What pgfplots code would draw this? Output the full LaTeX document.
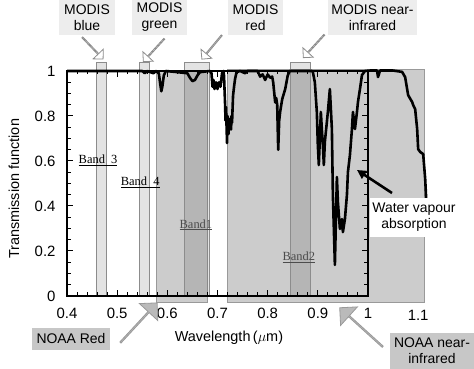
\documentclass[border=0pt]{standalone}
\usepackage{pgfplots}
\pgfplotsset{compat=1.18}
\usepackage{fontspec}
\setmainfont{Liberation Sans}
\newfontfamily\seriffont{Liberation Serif}
\usetikzlibrary{shapes.arrows,arrows.meta}
\begin{document}
\begin{tikzpicture}
\path[use as bounding box] (0,0) rectangle (474bp,369bp);
\begin{axis}[
  at={(67bp,73bp)}, anchor=south west,
  scale only axis, width=301bp, height=225bp,
  xmin=0.4, xmax=1.0, ymin=0, ymax=1,
  clip=false, axis on top,
  axis line style={line width=1.2bp},
  xtick={0.4,0.5,0.6,0.7,0.8,0.9,1.0},
  xticklabels={0.4,0.5,0.6,0.7,0.8,0.9,1},
  ytick={0,0.2,0.4,0.6,0.8,1},
  yticklabels={0,0.2,0.4,0.6,0.8,1},
  minor x tick num=4, minor y tick num=3,
  major tick length=6bp, minor tick length=3.5bp,
  every tick/.style={black, line width=1bp},
  /pgf/number format/assume math mode=true,
  tick label style={font=\fontsize{15}{18}\selectfont},
  xticklabel style={yshift=-9bp},
  yticklabel style={xshift=-8bp},
  xlabel={Wavelength\,($\mu$m)},
  ylabel={Transmission function},
  label style={font=\fontsize{14.5}{17}\selectfont},
  xlabel style={at={(axis description cs:0.538,-0.185)}, anchor=center},
  ylabel style={at={(axis description cs:-0.176,0.476)}, anchor=center},
]
% NOAA bands
\fill[black!20] (axis cs:0.579,-0.027) rectangle (axis cs:0.679,1.0);
\draw[black!40, line width=0.8bp] (axis cs:0.579,-0.027) rectangle (axis cs:0.679,1.0);
\fill[black!20] (axis cs:0.719,-0.027) rectangle (axis cs:1.113,1.005);
\draw[black!40, line width=0.8bp] (axis cs:0.719,-0.027) rectangle (axis cs:1.113,1.005);
% MODIS bands
\fill[black, opacity=0.11] (axis cs:0.458,0) rectangle (axis cs:0.478,1.036);
\draw[black!45, line width=0.8bp] (axis cs:0.458,0) rectangle (axis cs:0.478,1.036);
\fill[black, opacity=0.11] (axis cs:0.544,0) rectangle (axis cs:0.565,1.036);
\draw[black!45, line width=0.8bp] (axis cs:0.544,0) rectangle (axis cs:0.565,1.036);
\fill[black, opacity=0.11] (axis cs:0.634,0) rectangle (axis cs:0.684,1.036);
\draw[black!45, line width=0.8bp] (axis cs:0.634,0) rectangle (axis cs:0.684,1.036);
\fill[black, opacity=0.11] (axis cs:0.845,0) rectangle (axis cs:0.886,1.036);
\draw[black!45, line width=0.8bp] (axis cs:0.845,0) rectangle (axis cs:0.886,1.036);
% transmission curve
\addplot[black, line width=2.6bp, line join=round, mark=none] coordinates {
(0.400,1.000) (0.550,1.000) (0.555,0.990) (0.560,1.000) (0.572,0.990) (0.578,1.000)
(0.583,0.990) (0.586,0.940) (0.588,0.910) (0.590,0.930) (0.593,0.980) (0.597,1.000)
(0.620,0.995) (0.640,0.990) (0.645,0.970) (0.650,0.955) (0.655,0.960) (0.660,0.980)
(0.665,0.995) (0.685,1.000) (0.688,0.990) (0.690,0.930) (0.692,0.960) (0.694,0.920)
(0.697,0.950) (0.700,0.920) (0.703,0.950) (0.706,0.930) (0.709,0.990) (0.712,1.000)
(0.713,0.980) (0.715,0.860) (0.716,0.780) (0.717,0.840) (0.719,0.680) (0.720,0.800)
(0.722,0.720) (0.723,0.780) (0.724,0.740) (0.726,0.790) (0.727,0.740) (0.728,0.800)
(0.729,0.770) (0.731,0.890) (0.733,0.930)
(0.735,0.965) (0.738,0.995) (0.745,1.000) (0.755,0.990) (0.760,1.000) (0.780,1.000)
(0.785,0.975) (0.790,0.985) (0.795,0.960) (0.800,0.985) (0.805,0.970) (0.809,0.975)
(0.811,0.950) (0.815,0.860) (0.817,0.880) (0.819,0.850) (0.821,0.650) (0.823,0.780)
(0.825,0.820) (0.829,0.875) (0.835,0.920) (0.840,0.980) (0.844,1.000) (0.888,1.000)
(0.890,0.996) (0.894,0.951) (0.898,0.818) (0.900,0.671) (0.902,0.582) (0.906,0.818)
(0.908,0.742) (0.910,0.671) (0.912,0.582) (0.914,0.684) (0.918,0.773) (0.920,0.818)
(0.924,0.920) (0.928,0.742) (0.930,0.449) (0.934,0.138) (0.938,0.529) (0.940,0.418)
(0.944,0.298) (0.948,0.342) (0.950,0.284) (0.954,0.342) (0.958,0.449) (0.960,0.551)
(0.964,0.627) (0.968,0.742) (0.970,0.818) (0.974,0.742) (0.978,0.818) (0.980,0.862)
(0.984,0.920) (0.988,0.982) (0.994,1.000) (1.004,1.002) (1.018,1.002) (1.020,0.973)
(1.024,1.002) (1.050,1.002) (1.068,0.996) (1.074,0.973) (1.078,0.920) (1.080,0.893)
(1.088,0.862) (1.090,0.849) (1.094,0.831) (1.098,0.742) (1.100,0.653) (1.104,0.640)
(1.110,0.631) (1.114,0.520) (1.116,0.431)
};
% band labels
\node[font=\seriffont\fontsize{12.5}{14}\selectfont] at (axis cs:0.462,0.604) {\underline{Band\ \ 3}};
\node[font=\seriffont\fontsize{12.5}{14}\selectfont] at (axis cs:0.546,0.507) {\underline{Band\ \ 4}};
\node[font=\seriffont\fontsize{12.5}{14}\selectfont, text=black!70] at (axis cs:0.657,0.316) {\underline{Band1}};
\node[font=\seriffont\fontsize{12.5}{14}\selectfont, text=black!70] at (axis cs:0.862,0.173) {\underline{Band2}};
% extra tick label beyond the frame
\node[font=\fontsize{15}{18}\selectfont] at (axis cs:1.1,-0.085) {1.1};
\end{axis}
\begin{scope}[x=1bp,y=1bp, every node/.style={font=\fontsize{14}{16}\selectfont, align=center, inner sep=0pt}]
% MODIS label boxes
\node[fill=black!7, minimum width=56bp, minimum height=35bp] at (87,351.5) {MODIS\\blue};
\node[fill=black!7, minimum width=55bp, minimum height=35bp] at (159.5,351.5) {MODIS\\green};
\node[fill=black!7, minimum width=55bp, minimum height=35bp] at (255.5,351.5) {MODIS\\red};
\node[fill=black!7, minimum width=89bp, minimum height=35bp] at (372.5,351.5) {MODIS near-\\infrared};
% hollow arrows
\tikzset{harrow/.style={single arrow, draw=black!45, fill=white, line width=0.8bp, minimum width=14bp, single arrow head extend=4bp, single arrow head indent=0pt, inner sep=0pt}}
\node[harrow, minimum height=30bp, rotate=-46.3] at (92.5,321) {};
\node[harrow, minimum height=31bp, rotate=-132.5] at (154,319) {};
\node[harrow, minimum height=31bp, rotate=-129.8] at (212,322) {};
\node[harrow, minimum height=31bp, rotate=-132.5] at (314,323) {};
% NOAA label boxes
\node[fill=black!22, minimum width=78bp, minimum height=22bp] at (71,30) {NOAA Red};
\node[fill=black!22, minimum width=84bp, minimum height=36bp] at (432,18) {NOAA near-\\infrared};
% big gray arrows
\tikzset{garrow/.style={single arrow, draw=black!40, fill=black!27, line width=0.8bp, minimum width=25bp, single arrow head extend=6bp, inner sep=0pt}}
\node[garrow, minimum height=54bp, rotate=47.2] at (138.5,46) {};
\node[garrow, minimum height=58bp, rotate=137.8] at (361.5,41.5) {};
% water vapour
\node[fill=white, minimum width=88bp, minimum height=39bp] at (414,151.5) {Water vapour\\absorption};
\draw[line width=2.6bp, -{Triangle[length=9bp,width=9bp]}] (392,176) -- (357,199);
\end{scope}
\end{tikzpicture}
\end{document}
